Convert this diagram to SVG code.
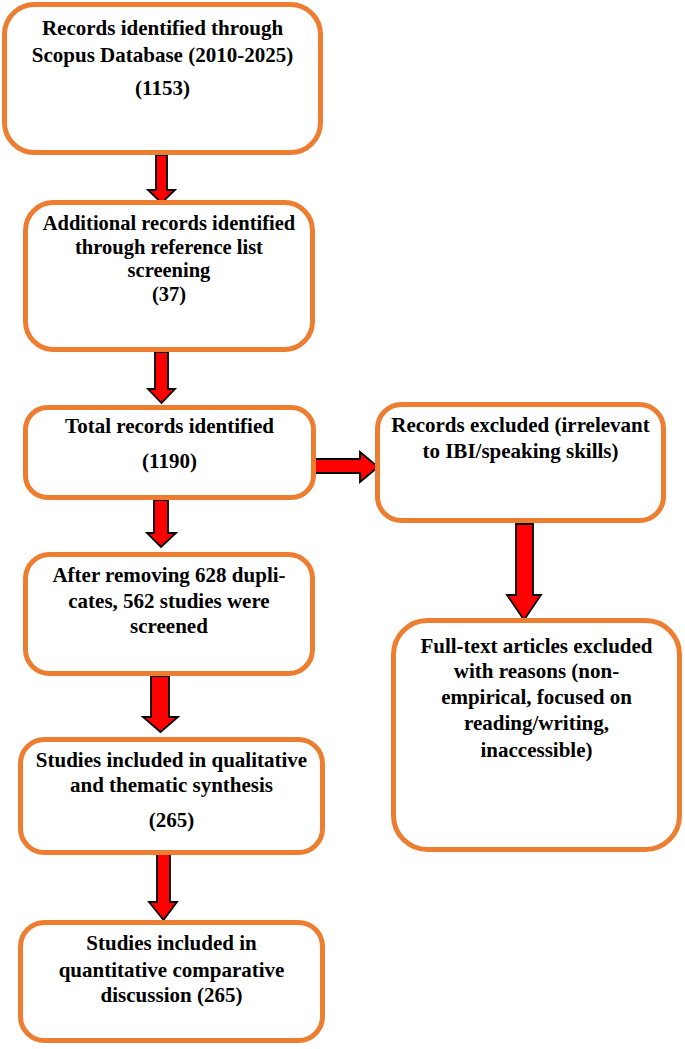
<svg xmlns="http://www.w3.org/2000/svg" width="685" height="1049" viewBox="0 0 685 1049">
<style>
.box{fill:#fff;stroke:#ED7D31;stroke-width:5}
.t{font-family:"Liberation Serif","Times New Roman",serif;font-weight:bold;font-size:21px;fill:#000;text-anchor:middle}
.s{font-size:20.5px}
.arr{fill:#FF0000;stroke:#000;stroke-width:1.8;stroke-linejoin:miter}
</style>
<rect width="685" height="1049" fill="#fff"/>
<g id="connectors">
<polygon class="arr" points="156,155 167,155 167,190 175,190 161.5,203 148,190 156,190"/>
<polygon class="arr" points="155,352 168,352 168,389 175,389 161.5,403 148,389 155,389"/>
<polygon class="arr" points="154,500 168,500 168,533 176,533 161,547 147,533 154,533"/>
<polygon class="arr" points="151,676 169,676 169,717 178,717 160.5,732 143,717 151,717"/>
<polygon class="arr" points="157,854 170,854 170,902 177,902 163.5,920 149,902 157,902"/>
<polygon class="arr" points="313,459 360,459 360,452 378,467 360,482 360,473 313,473"/>
<polygon class="arr" points="516,524 533,524 533,595 541,595 524,620 507,595 516,595"/>
</g>
<g id="n1">
<rect class="box" x="4.5" y="4.5" width="316" height="148" rx="30"/>
<text class="t" x="162.5" y="35">Records identified through</text>
<text class="t" x="162.5" y="62">Scopus Database (2010-2025)</text>
<text class="t" x="162.5" y="95">(1153)</text>
</g>
<g id="n2">
<rect class="box" x="25.5" y="202.5" width="287" height="147" rx="28"/>
<text class="t s" x="169" y="230">Additional records identified</text>
<text class="t s" x="169" y="253.5">through reference list</text>
<text class="t s" x="169" y="277">screening</text>
<text class="t s" x="169" y="300.5">(37)</text>
</g>
<g id="n3">
<rect class="box" x="25.5" y="407.5" width="288" height="90" rx="22"/>
<text class="t" x="169.5" y="433">Total records identified</text>
<text class="t" x="169.5" y="468">(1190)</text>
</g>
<g id="n4">
<rect class="box" x="377.5" y="404.5" width="286" height="116" rx="24"/>
<text class="t" x="520.5" y="432">Records excluded (irrelevant</text>
<text class="t" x="520.5" y="458">to IBI/speaking skills)</text>
</g>
<g id="n5">
<rect class="box" x="25.5" y="554.5" width="287" height="119" rx="24"/>
<text class="t" x="169" y="582">After removing 628 dupli-</text>
<text class="t" x="169" y="608">cates, 562 studies were</text>
<text class="t" x="169" y="633">screened</text>
</g>
<g id="n6">
<rect class="box" x="393.5" y="620.5" width="286" height="229" rx="34"/>
<text class="t" x="536.5" y="653">Full-text articles excluded</text>
<text class="t" x="536.5" y="678">with reasons (non-</text>
<text class="t" x="536.5" y="704">empirical, focused on</text>
<text class="t" x="536.5" y="730">reading/writing,</text>
<text class="t" x="536.5" y="757">inaccessible)</text>
</g>
<g id="n7">
<rect class="box" x="20.5" y="739.5" width="302" height="113" rx="24"/>
<text class="t" x="171.5" y="767">Studies included in qualitative</text>
<text class="t" x="171.5" y="792">and thematic synthesis</text>
<text class="t" x="171.5" y="827">(265)</text>
</g>
<g id="n8">
<rect class="box" x="20.5" y="922.5" width="302" height="118" rx="24"/>
<text class="t" x="171.5" y="950">Studies included in</text>
<text class="t" x="171.5" y="977">quantitative comparative</text>
<text class="t" x="171.5" y="1002">discussion (265)</text>
</g>
</svg>
